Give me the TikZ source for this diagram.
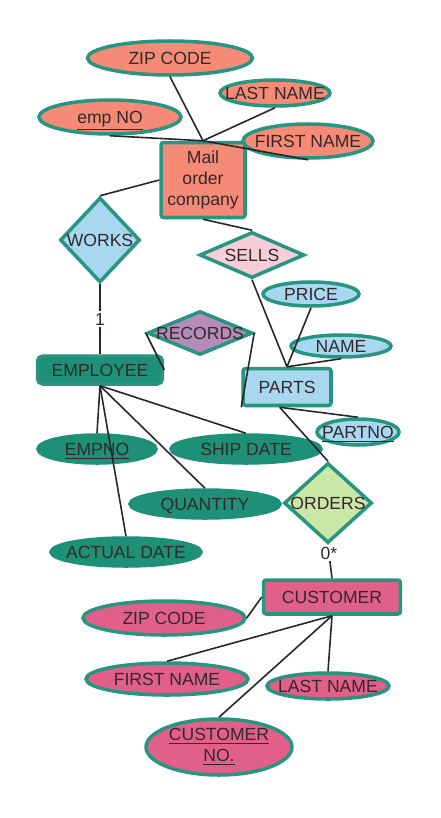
\documentclass[tikz,border=0pt]{standalone}
\usepackage{fontspec}
\setmainfont{Liberation Sans}
\usepackage{tikz}
\usetikzlibrary{shapes.geometric}

\definecolor{rim}{HTML}{27957F}
\definecolor{salmon}{HTML}{F58A77}
\definecolor{skyblue}{HTML}{A7D8F0}
\definecolor{rosepink}{HTML}{F7CDD8}
\definecolor{mauve}{HTML}{B58CB8}
\definecolor{limegreen}{HTML}{C9E7A7}
\definecolor{custpink}{HTML}{E0608A}
\definecolor{tealfill}{HTML}{1E9078}
\definecolor{ink}{HTML}{33282A}

% text that does not widen its shape
\newcommand{\tx}[1]{\makebox[0pt]{\raisebox{-0.36em}[0pt][0pt]{#1}}}

\begin{document}
\begin{tikzpicture}[x=0.02cm,y=-0.02cm]
\tikzset{entity/.style = {shape=rectangle,draw=rim,line width=2pt,rounded corners=1.5pt,inner sep=0pt,text=ink,font=\fontsize{10}{12}\selectfont}}
\tikzset{attr/.style = {shape=ellipse,draw=rim,line width=2pt,inner sep=0pt,text=ink,font=\fontsize{10}{12}\selectfont}}
\tikzset{rel/.style = {shape=diamond,draw=rim,line width=2pt,inner sep=0pt,text=ink,font=\fontsize{10}{12}\selectfont}}
\tikzset{edge/.style = {draw=black!85,line width=0.9pt}}
\useasboundingbox (0,0) rectangle (440,818);
% vertices
\node[attr,fill=salmon,minimum width=3.3cm,minimum height=0.68cm] (zipa) at (170,58) {\tx{ZIP CODE}};
\node[attr,fill=salmon,minimum width=2.2cm,minimum height=0.52cm] (lnamea) at (275,93) {\tx{LAST NAME}};
\node[attr,fill=salmon,minimum width=2.84cm,minimum height=0.68cm] (empnoa) at (110,117) {\tx{\underline{emp NO}}};
\node[attr,fill=salmon,minimum width=2.6cm,minimum height=0.68cm] (fnamea) at (308,141) {\tx{FIRST NAME}};
\node[entity,fill=salmon,minimum width=1.68cm,minimum height=1.5cm,align=center] (comp) at (203,180) {Mail\\order\\company};
\node[rel,fill=skyblue,minimum width=1.6cm,minimum height=1.7cm] (works) at (100,240) {\tx{WORKS}};
\node[rel,fill=rosepink,minimum width=2.1cm,minimum height=0.92cm] (sells) at (252,255) {\tx{SELLS}};
\node[attr,fill=skyblue,minimum width=1.92cm,minimum height=0.48cm] (price) at (311,294) {\tx{PRICE}};
\node[rel,fill=mauve,minimum width=2.1cm,minimum height=0.88cm] (records) at (200,333) {\tx{RECORDS}};
\node[attr,fill=skyblue,minimum width=2.0cm,minimum height=0.44cm] (pname) at (341,346) {\tx{NAME}};
\node[entity,fill=tealfill,rounded corners=3pt,minimum width=2.5cm,minimum height=0.56cm] (emp) at (100,370) {\tx{EMPLOYEE}};
\node[entity,fill=skyblue,minimum width=1.76cm,minimum height=0.74cm] (parts) at (287,387) {\tx{PARTS}};
\node[attr,fill=skyblue,minimum width=1.64cm,minimum height=0.52cm] (partno) at (358,432) {\tx{\underline{PARTNO}}};
\node[attr,fill=tealfill,draw=tealfill,minimum width=2.36cm,minimum height=0.56cm] (empno) at (97,449) {\tx{\underline{EMPNO}}};
\node[attr,fill=tealfill,draw=tealfill,minimum width=3.0cm,minimum height=0.56cm] (ship) at (246,449) {\tx{SHIP DATE}};
\node[rel,fill=limegreen,minimum width=1.76cm,minimum height=1.6cm] (orders) at (328,503) {\tx{ORDERS}};
\node[attr,fill=tealfill,draw=tealfill,minimum width=3.0cm,minimum height=0.56cm] (qty) at (205,504) {\tx{QUANTITY}};
\node[attr,fill=tealfill,draw=tealfill,minimum width=3.0cm,minimum height=0.56cm] (actual) at (126,552) {\tx{ACTUAL DATE}};
\node[entity,fill=custpink,minimum width=2.74cm,minimum height=0.68cm] (cust) at (332,597) {\tx{CUSTOMER}};
\node[attr,fill=custpink,minimum width=3.24cm,minimum height=0.68cm] (zipb) at (164,618) {\tx{ZIP CODE}};
\node[attr,fill=custpink,minimum width=3.24cm,minimum height=0.64cm] (fnameb) at (167,679) {\tx{FIRST NAME}};
\node[attr,fill=custpink,minimum width=2.44cm,minimum height=0.52cm] (lnameb) at (328,686) {\tx{LAST NAME}};
\node[attr,fill=custpink,minimum width=2.92cm,minimum height=1.12cm,align=center] (custno) at (219,747) {\underline{CUSTOMER}\\\underline{NO.}};

%edges
\draw[edge] (zipa.south) to[] (comp.north);
\draw[edge] (lnamea.south) to[] (comp.north);
\draw[edge] (empnoa.south) to[] (comp.north);
\draw[edge] (comp.north) to[] (fnamea.south);
\draw[edge] (comp.west) to[] (works.north);
\draw[edge] (comp.south) to[] (sells.north);
\draw[edge] (works.south) to[] node[fill=white,inner sep=1pt,text=ink,font=\fontsize{10}{12}\selectfont] {1} (emp.north);
\draw[edge] (sells.south) to[] (parts.north);
\draw[edge] (price.south) to[] (parts.north);
\draw[edge] (pname.south) to[] (parts.north);
\draw[edge] (records.west) to[] (emp.east);
\draw[edge] (records.east) to[] (parts.south west);
\draw[edge] (emp.south) to[] (empno.north);
\draw[edge] (emp.south) to[] (actual.north);
\draw[edge] (emp.south) to[] (qty.north);
\draw[edge] (emp.south) to[] (ship.north);
\draw[edge] (parts.250) to[] (partno.north);
\draw[edge] (parts.250) to[] (orders.north);
\draw[edge] (orders.south) to[] node[pos=0.25,fill=white,inner sep=1pt,text=ink,font=\fontsize{10}{12}\selectfont] {0*} (cust.north);
\draw[edge] (cust.west) to[] (zipb.east);
\draw[edge] (cust.south) to[] (fnameb.north);
\draw[edge] (cust.south) to[] (lnameb.north);
\draw[edge] (cust.south) to[] (custno.north);
\end{tikzpicture}
\end{document}
